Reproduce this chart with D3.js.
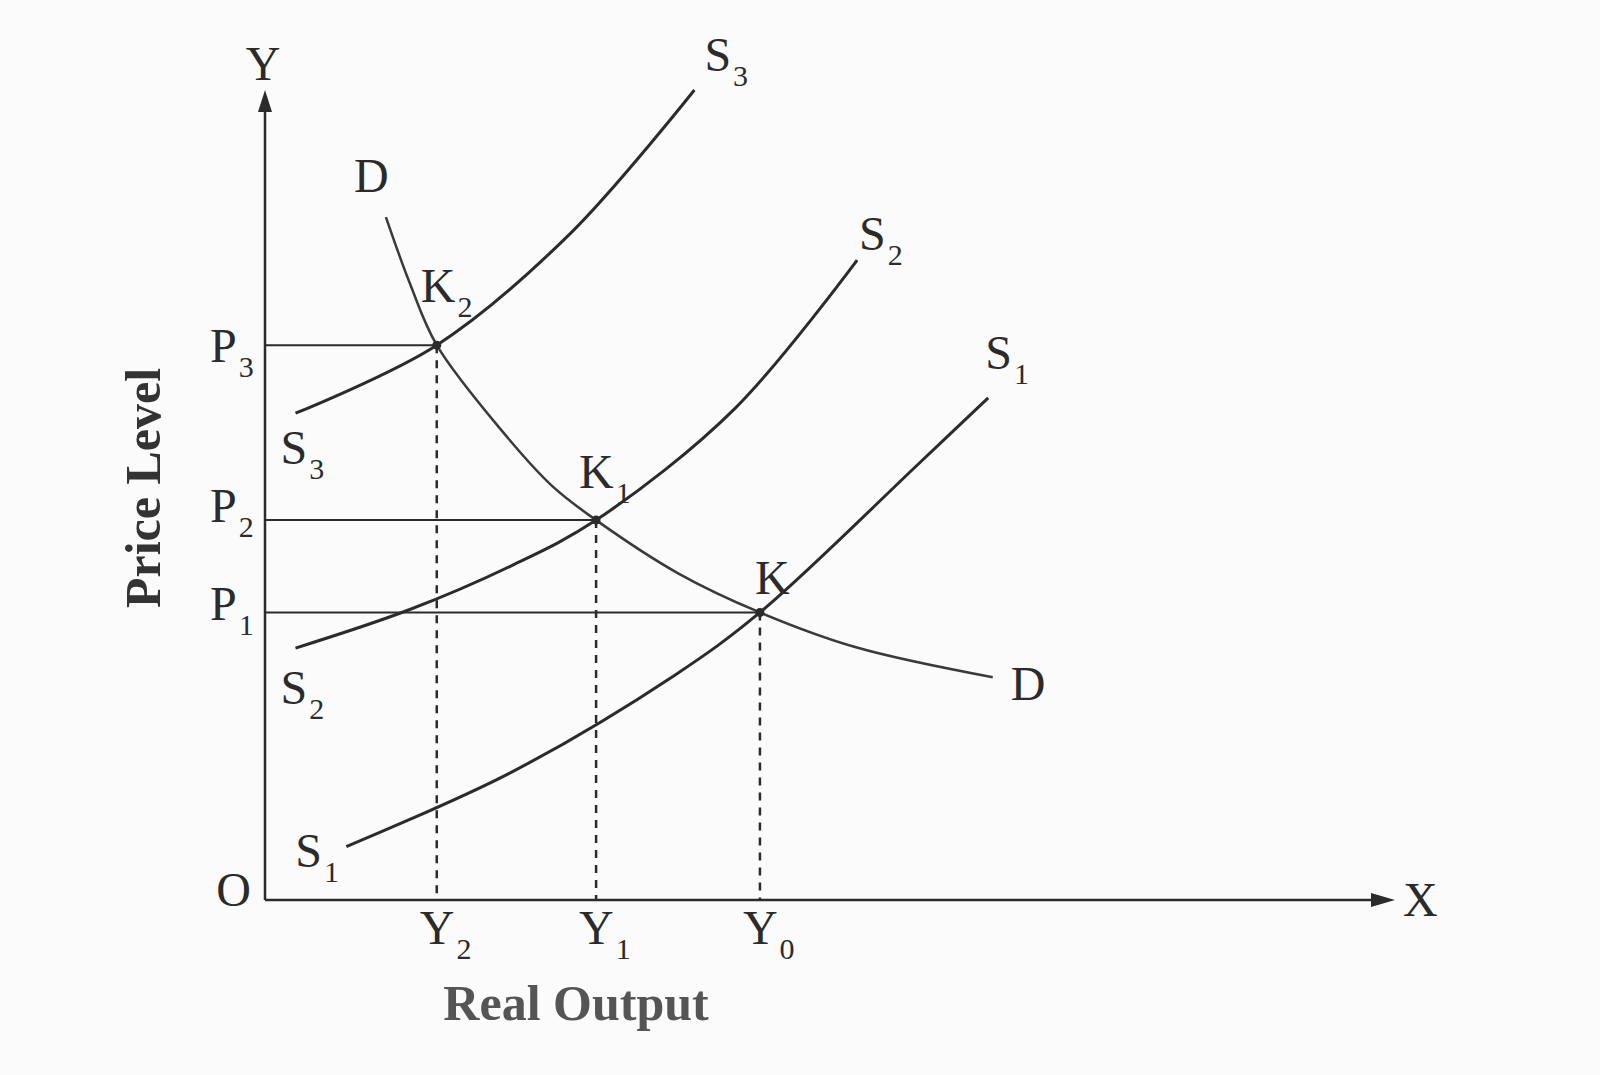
<!DOCTYPE html>
<html>
<head>
<meta charset="utf-8">
<script src="https://cdn.jsdelivr.net/npm/d3@7"></script>
<style>
  body { margin: 0; background: #fbfbfb; }
  svg { display: block; }
  text { font-family: "Liberation Serif", "DejaVu Serif", serif; fill: #2b2b2b; }
</style>
</head>
<body>
<div id="chart"></div>
<script>
// curves (output 0-100, price level 0-100)
var demandD  = [[10.7,84.3],[12.8,76.2],[15.2,68.5],[21.1,57.7],[25.5,51.0],[29.3,46.9],[36.6,40.3],[43.8,35.5],[52.3,31.2],[64.4,27.5]];
var supplyS1 = [[7.2,6.6],[21.7,15.7],[36.2,27.7],[43.8,35.5],[57.8,53.8],[64.0,62.0]];
var supplyS2 = [[2.7,31.1],[12.7,35.8],[21.7,41.2],[29.3,46.9],[41.6,60.7],[52.4,79.0]];
var supplyS3 = [[2.7,60.1],[15.2,68.5],[27.1,82.4],[38.0,100.0]];

// equilibrium points
var eqNames = ["K", "K1", "K2"];
var eqX = [43.8, 29.3, 15.2];
var eqY = [35.5, 46.9, 68.5];

// axis tick labels
var outputTicks = ["Y0", "Y1", "Y2"];
var priceTicks = ["P1", "P2", "P3"];

var width = 1600, height = 1075;

var x = d3.scaleLinear().domain([0, 100]).range([265, 1395]);
var y = d3.scaleLinear().domain([0, 100]).range([900, 90]);

var svg = d3.select("#chart").append("svg")
  .attr("width", width)
  .attr("height", height);

svg.append("rect").attr("width", width).attr("height", height).attr("fill", "#fbfbfb");

var ink = "#2b2b2b";

// letter + subscript
function label(g, txt, px, py, anchor) {
  var t = g.append("text")
    .attr("x", px).attr("y", py)
    .attr("font-size", 48)
    .attr("text-anchor", anchor || "start");
  t.append("tspan").text(txt[0]);
  if (txt.length > 1) {
    t.append("tspan").attr("dy", 15).attr("dx", 2).attr("font-size", 30).text(txt.slice(1));
  }
  return t;
}

// axes
svg.append("line")
  .attr("x1", x(0)).attr("y1", y(0))
  .attr("x2", x(0)).attr("y2", y(100) + 14)
  .attr("stroke", ink).attr("stroke-width", 2.5);
svg.append("line")
  .attr("x1", x(0)).attr("y1", y(0))
  .attr("x2", x(100) - 14).attr("y2", y(0))
  .attr("stroke", ink).attr("stroke-width", 2.5);
svg.append("path")
  .attr("d", "M" + x(0) + "," + y(100) + "l-7,22l14,0z")
  .attr("fill", ink);
svg.append("path")
  .attr("d", "M" + x(100) + "," + y(0) + "l-24,-7l0,14z")
  .attr("fill", ink);

svg.append("text").attr("x", x(0) - 2).attr("y", y(100) - 10)
  .attr("font-size", 48).attr("text-anchor", "middle").text("Y");
svg.append("text").attr("x", x(100) + 8).attr("y", y(0) + 16)
  .attr("font-size", 48).text("X");
svg.append("text").attr("x", x(0) - 14).attr("y", y(0) + 6)
  .attr("font-size", 48).attr("text-anchor", "end").text("O");

// guide lines
var guides = svg.append("g");
eqNames.forEach(function(n, i) {
  guides.append("line")
    .attr("x1", x(0)).attr("y1", y(eqY[i]))
    .attr("x2", x(eqX[i])).attr("y2", y(eqY[i]))
    .attr("stroke", ink).attr("stroke-width", 2);
  guides.append("line")
    .attr("x1", x(eqX[i])).attr("y1", y(eqY[i]))
    .attr("x2", x(eqX[i])).attr("y2", y(0))
    .attr("stroke", ink).attr("stroke-width", 2.5)
    .attr("stroke-dasharray", "8,7");
});

// curves
var line = d3.line()
  .x(function(d) { return x(d[0]); })
  .y(function(d) { return y(d[1]); })
  .curve(d3.curveCatmullRom.alpha(0.5));

[demandD, supplyS1, supplyS2, supplyS3].forEach(function(c, i) {
  svg.append("path")
    .datum(c)
    .attr("d", line)
    .attr("fill", "none")
    .attr("stroke", i == 0 ? "#3a3a3a" : ink)
    .attr("stroke-width", i == 0 ? 2.5 : 3);
});

// points
eqNames.forEach(function(n, i) {
  svg.append("circle")
    .attr("cx", x(eqX[i])).attr("cy", y(eqY[i]))
    .attr("r", 4.5).attr("fill", ink);
});

// curve labels
var labs = svg.append("g");
var first = function(c) { return c[0]; };
var last = function(c) { return c[c.length - 1]; };
label(labs, "D", x(first(demandD)[0]) - 32, y(first(demandD)[1]) - 25);
label(labs, "D", x(last(demandD)[0]) + 18, y(last(demandD)[1]) + 23);
label(labs, "S3", x(last(supplyS3)[0]) + 10, y(last(supplyS3)[1]) - 19);
label(labs, "S3", x(first(supplyS3)[0]) - 15, y(first(supplyS3)[1]) + 51);
label(labs, "S2", x(last(supplyS2)[0]) + 2, y(last(supplyS2)[1]) - 10);
label(labs, "S2", x(first(supplyS2)[0]) - 15, y(first(supplyS2)[1]) + 56);
label(labs, "S1", x(last(supplyS1)[0]) - 3, y(last(supplyS1)[1]) - 29);
label(labs, "S1", x(first(supplyS1)[0]) - 51, y(first(supplyS1)[1]) + 20);

// equilibrium labels
var kOff = [[-5, -18], [-17, -32], [-16, -43]];
eqNames.forEach(function(n, i) {
  label(labs, n, x(eqX[i]) + kOff[i][0], y(eqY[i]) + kOff[i][1]);
});

// tick labels
outputTicks.forEach(function(n, i) {
  label(labs, n, x(eqX[i]) - 17, y(0) + 44);
});
var pOff = [8, 2, 17];
priceTicks.forEach(function(n, i) {
  label(labs, n, x(0) - 55, y(eqY[i]) + pOff[i]);
});

// axis titles
svg.append("text")
  .attr("x", 576).attr("y", 1020)
  .attr("font-size", 50).attr("font-weight", "bold")
  .attr("text-anchor", "middle")
  .style("fill", "#555")
  .text("Real Output");
svg.append("text")
  .attr("transform", "translate(160,488) rotate(-90)")
  .attr("font-size", 50).attr("font-weight", "bold")
  .attr("text-anchor", "middle")
  .style("fill", "#333")
  .text("Price Level");
</script>
</body>
</html>
